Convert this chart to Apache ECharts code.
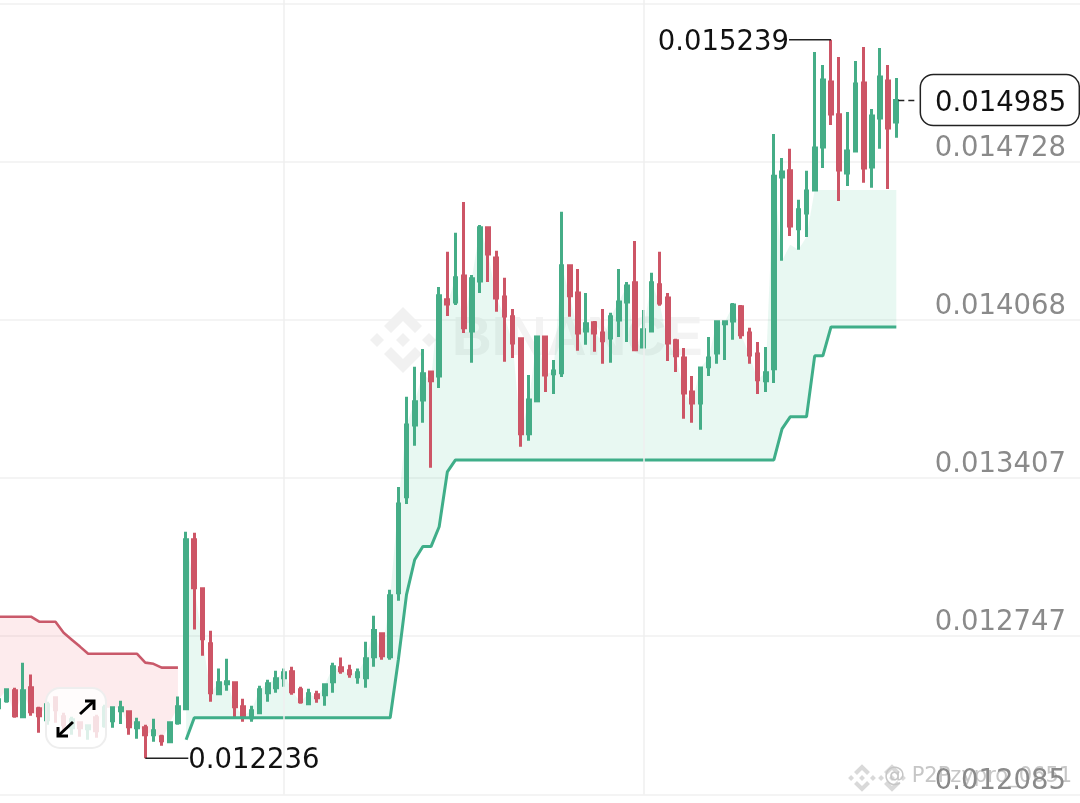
<!DOCTYPE html>
<html><head><meta charset="utf-8">
<style>html,body{margin:0;padding:0;background:#fff}#c{width:1080px;height:803px}</style>
<script src="https://cdn.jsdelivr.net/npm/echarts@6/dist/echarts.min.js"></script>
</head><body><div id="c"></div>
<script>
const opens=[0.012448,0.012477,0.012519,0.012410,0.012531,0.012443,0.012397,0.012489,0.012410,0.012364,0.012385,0.012360,0.012406,0.012372,0.012393,0.012435,0.012431,0.012364,0.012364,0.012335,0.012326,0.012305,0.012385,0.012443,0.013150,0.012945,0.012715,0.012506,0.012548,0.012552,0.012452,0.012406,0.012427,0.012510,0.012531,0.012573,0.012598,0.012523,0.012464,0.012502,0.012502,0.012556,0.012615,0.012602,0.012577,0.012573,0.012661,0.012757,0.012661,0.012928,0.013329,0.013629,0.013734,0.013851,0.013834,0.014152,0.014143,0.014252,0.014022,0.014231,0.014453,0.014327,0.014164,0.014081,0.013989,0.013592,0.013730,0.013997,0.013843,0.013847,0.014294,0.014181,0.014022,0.014056,0.014014,0.013993,0.014068,0.014143,0.014223,0.013955,0.014022,0.014215,0.014160,0.013981,0.013909,0.013767,0.013721,0.013872,0.013930,0.014052,0.014064,0.014123,0.014014,0.013926,0.013814,0.013864,0.014665,0.014691,0.014449,0.014515,0.014611,0.014791,0.015062,0.014925,0.014682,0.014774,0.015058,0.014707,0.014912,0.015067,0.014895];
const closes=[0.012481,0.012523,0.012414,0.012519,0.012431,0.012414,0.012460,0.012439,0.012376,0.012397,0.012364,0.012372,0.012351,0.012448,0.012448,0.012448,0.012368,0.012385,0.012335,0.012351,0.012310,0.012385,0.012452,0.013150,0.012949,0.012736,0.012510,0.012552,0.012556,0.012452,0.012414,0.012435,0.012523,0.012548,0.012569,0.012594,0.012514,0.012473,0.012506,0.012489,0.012544,0.012619,0.012602,0.012590,0.012594,0.012652,0.012770,0.012665,0.012916,0.013299,0.013629,0.013726,0.013843,0.013814,0.014169,0.014135,0.014244,0.014035,0.014240,0.014453,0.014344,0.014160,0.014085,0.013972,0.013592,0.013734,0.013997,0.013838,0.013855,0.014294,0.014169,0.014014,0.014052,0.014014,0.013981,0.014081,0.014143,0.014210,0.013943,0.014027,0.014223,0.014139,0.013972,0.013918,0.013763,0.013721,0.013867,0.013909,0.014060,0.014060,0.014131,0.014006,0.013922,0.013818,0.013847,0.014669,0.014686,0.014461,0.014528,0.014607,0.014787,0.015071,0.014929,0.014695,0.014774,0.015054,0.014703,0.014920,0.015083,0.014870,0.014985];
const lows=[0.012439,0.012468,0.012406,0.012406,0.012414,0.012343,0.012376,0.012385,0.012347,0.012335,0.012326,0.012314,0.012322,0.012364,0.012364,0.012380,0.012335,0.012318,0.012236,0.012305,0.012289,0.012305,0.012376,0.012439,0.012774,0.012665,0.012473,0.012502,0.012519,0.012406,0.012389,0.012389,0.012427,0.012473,0.012510,0.012535,0.012502,0.012464,0.012464,0.012468,0.012456,0.012510,0.012590,0.012573,0.012548,0.012531,0.012619,0.012648,0.012648,0.012895,0.013299,0.013542,0.013638,0.013450,0.013784,0.014085,0.014131,0.014014,0.013889,0.014181,0.014227,0.014102,0.013893,0.013909,0.013538,0.013563,0.013730,0.013767,0.013759,0.013830,0.014081,0.013939,0.013964,0.013935,0.013885,0.013889,0.013997,0.013976,0.013939,0.013955,0.014022,0.014127,0.013897,0.013851,0.013655,0.013638,0.013609,0.013834,0.013885,0.013901,0.013985,0.013989,0.013885,0.013759,0.013767,0.013805,0.014315,0.014419,0.014361,0.014415,0.014611,0.014703,0.014883,0.014565,0.014628,0.014774,0.014641,0.014620,0.014783,0.014615,0.014829];
const highs=[0.012489,0.012527,0.012531,0.012636,0.012586,0.012452,0.012473,0.012494,0.012427,0.012410,0.012389,0.012376,0.012418,0.012460,0.012452,0.012477,0.012431,0.012406,0.012376,0.012402,0.012335,0.012389,0.012494,0.013183,0.013179,0.012945,0.012769,0.012611,0.012652,0.012556,0.012485,0.012456,0.012539,0.012565,0.012602,0.012611,0.012619,0.012535,0.012527,0.012519,0.012548,0.012636,0.012657,0.012627,0.012611,0.012723,0.012832,0.012757,0.012941,0.013370,0.013747,0.013872,0.013947,0.013855,0.014206,0.014353,0.014432,0.014561,0.014256,0.014465,0.014457,0.014357,0.014244,0.014114,0.013989,0.013838,0.013997,0.013997,0.013901,0.014520,0.014294,0.014281,0.014181,0.014064,0.014114,0.014098,0.014281,0.014227,0.014398,0.014110,0.014265,0.014353,0.014181,0.013989,0.013951,0.013834,0.013867,0.013997,0.014064,0.014064,0.014139,0.014131,0.014035,0.013976,0.013955,0.014845,0.014745,0.014783,0.014570,0.014691,0.015188,0.015133,0.015239,0.015167,0.014937,0.015150,0.015209,0.014950,0.015204,0.015133,0.015079];
// Trend lines: red over candles 0-22, green from candle 23 to the end
const redTrend=[0.012828,0.012828,0.012828,0.012828,0.012828,0.012807,0.012807,0.012807,0.012761,0.012732,0.012703,0.012673,0.012673,0.012673,0.012673,0.012673,0.012673,0.012673,0.012636,0.012631,0.012615,0.012615,0.012615];
const greenTrend=[0.012314,0.012406,0.012406,0.012406,0.012406,0.012406,0.012406,0.012406,0.012406,0.012406,0.012406,0.012406,0.012406,0.012406,0.012406,0.012406,0.012406,0.012406,0.012406,0.012406,0.012406,0.012406,0.012406,0.012406,0.012406,0.012406,0.012648,0.012920,0.013066,0.013121,0.013121,0.013204,0.013433,0.013483,0.013483,0.013483,0.013483,0.013483,0.013483,0.013483,0.013483,0.013483,0.013483,0.013483,0.013483,0.013483,0.013483,0.013483,0.013483,0.013483,0.013483,0.013483,0.013483,0.013483,0.013483,0.013483,0.013483,0.013483,0.013483,0.013483,0.013483,0.013483,0.013483,0.013483,0.013483,0.013483,0.013483,0.013483,0.013483,0.013483,0.013483,0.013483,0.013483,0.013613,0.013663,0.013663,0.013663,0.013918,0.013918,0.014039,0.014039,0.014039,0.014039,0.014039,0.014039,0.014039,0.014039,0.014039];
// Top edge of the green band for candles 96-110 (closes elsewhere)
const greenBandTopEnd=[0.014315,0.014382,0.014361,0.014415,0.014611,0.014611,0.014611,0.014611,0.014611,0.014611,0.014611,0.014611,0.014611,0.014611,0.014611];
const yTicks=[0.015388,0.014728,0.014068,0.013407,0.012747,0.012085];
const highLabel='0.015239', lowLabel='0.012236', lastLabel='0.014985';
const highIndex=102, lowIndex=18, lastIndex=110;
const vGridIndex=[35,79];
const BANDS=133, RED_N=redTrend.length, GREEN_START=RED_N;

const categories=Array.from({length:BANDS},(_,i)=>String(i));
const candle=opens.map((o,i)=>[o,closes[i],lows[i],highs[i]]);
const fit=a=>a.map(v=>v==null?null:+v.toFixed(6));
const redBase=categories.map((_,i)=>i<RED_N?closes[i]:null);
const redDiff=fit(categories.map((_,i)=>i<RED_N?redTrend[i]-closes[i]:null));
const greenBase=categories.map((_,i)=>i>=GREEN_START&&i<opens.length?greenTrend[i-GREEN_START]:null);
const greenTop=categories.map((_,i)=>i<GREEN_START||i>=opens.length?null:(i>=96?greenBandTopEnd[i-96]:closes[i]));
const greenDiff=categories.map((_,i)=>greenTop[i]==null?null:+(greenTop[i]-greenBase[i]).toFixed(6));
const redLine=categories.map((_,i)=>i<RED_N?redTrend[i]:null);
const greenLine=categories.map((_,i)=>greenBase[i]);

const FONT='"DejaVu Sans"', FS=27.5, TEXT_DY=3;
const UP='#45ad87', DOWN='#cd5566';
const logo=(x,y,s,fill)=>{const P=pts=>({type:'polygon',shape:{points:pts.map(p=>[p[0]*s,p[1]*s])},style:{fill}});
 return {type:'group',x,y,children:[P([[0,-33],[19,-14],[12,-7],[0,-19],[-12,-7],[-19,-14]]),P([[0,33],[19,14],[12,7],[0,19],[-12,7],[-19,14]]),P([[-33,0],[-26,-7],[-19,0],[-26,7]]),P([[33,0],[26,-7],[19,0],[26,7]]),P([[0,-7],[7,0],[0,7],[-7,0]])]};};

const annotations=[[highIndex,0.015239,highLabel,'high'],[lowIndex,0.012236,lowLabel,'low'],[lastIndex,0.014985,lastLabel,'last']];
function renderNote(params,api){
 const p=api.coord([api.value(0),api.value(1)]);
 const kind=annotations[params.dataIndex][3], txt=annotations[params.dataIndex][2];
 const font=`${FS}px ${FONT}`;
 if(kind==='high') return {type:'group',children:[
  {type:'line',shape:{x1:p[0]-42,y1:p[1],x2:p[0],y2:p[1]},style:{stroke:'#222',lineWidth:1.5}},
  {type:'text',x:p[0]-42,y:p[1]+TEXT_DY,style:{text:txt,font,fill:'#111',textAlign:'right',textVerticalAlign:'middle'}}]};
 if(kind==='low') return {type:'group',children:[
  {type:'line',shape:{x1:p[0],y1:p[1],x2:p[0]+43,y2:p[1]},style:{stroke:'#222',lineWidth:1.5}},
  {type:'text',x:p[0]+43,y:p[1]+TEXT_DY-1,style:{text:txt,font,fill:'#111',textAlign:'left',textVerticalAlign:'middle'}}]};
 return {type:'group',children:[
  {type:'line',shape:{x1:p[0]+2,y1:p[1],x2:p[0]+22,y2:p[1]},style:{stroke:'#222',lineWidth:1.5,lineDash:[6,4]}},
  {type:'rect',shape:{x:p[0]+24,y:p[1]-26,width:159,height:51,r:13},style:{fill:'#fff',stroke:'#222',lineWidth:1.5}},
  {type:'text',x:p[0]+170,y:p[1]+TEXT_DY,style:{text:txt,font,fill:'#111',textAlign:'right',textVerticalAlign:'middle'}}]};
}

const chart=echarts.init(document.getElementById('c'),null,{renderer:'canvas'});
chart.setOption({
 animation:false,backgroundColor:'#fff',
 grid:{left:-5.74,right:0,top:0,height:794.5,outerBoundsMode:'none',containLabel:false},
 xAxis:{type:'category',data:categories,boundaryGap:true,axisLine:{show:false},axisTick:{show:false},axisLabel:{show:false},splitLine:{show:false}},
 yAxis:{type:'value',position:'right',min:0.012085,max:0.015405,scale:true,
  axisLine:{show:false},
  axisTick:{show:false,customValues:yTicks},
  axisLabel:{show:true,inside:true,margin:14,customValues:yTicks.slice(1),formatter:v=>v.toFixed(6),color:'#8a8a8a',fontFamily:FONT,fontSize:FS,verticalAlign:'bottom',lineHeight:26},
  splitLine:{show:true,lineStyle:{color:'#f0f0f0',width:1.5}}},
 graphic:{elements:[
  Object.assign(logo(403,340,1,'#f1f1f1'),{z:0}),
  {type:'text',x:452,y:340,z:0,style:{text:'BINANCE',font:'bold 55px "Liberation Sans"',fill:'#f3f3f3',textVerticalAlign:'middle'}},
  Object.assign(logo(862,778,0.42,'#d9d9d9'),{z:0}),
  Object.assign(logo(892,778,0.42,'#d9d9d9'),{z:0}),
  {type:'text',x:884,y:777,z:0,style:{text:'@ P2Pzypro_0651',font:'21px "DejaVu Sans"',fill:'#c6c6c6',textVerticalAlign:'middle'}},
  {type:'rect',z:50,shape:{x:46,y:688,width:60,height:60,r:14},style:{fill:'rgba(255,255,255,0.82)',stroke:'#eeeeee',lineWidth:2}},
  {type:'polyline',z:60,shape:{points:[[58,736],[73,722]]},style:{stroke:'#000',lineWidth:3,fill:null}},
  {type:'polyline',z:60,shape:{points:[[58,727],[58,736],[68,736]]},style:{stroke:'#000',lineWidth:3,fill:null}},
  {type:'polyline',z:60,shape:{points:[[80,714],[94,701]]},style:{stroke:'#000',lineWidth:3,fill:null}},
  {type:'polyline',z:60,shape:{points:[[85,701],[94,701],[94,710]]},style:{stroke:'#000',lineWidth:3,fill:null}}
 ]},
 series:[
  {type:'line',name:'redBase',data:redBase,stack:'r',symbol:'none',lineStyle:{opacity:0},z:1,silent:true},
  {type:'line',name:'redBand',data:redDiff,stack:'r',symbol:'none',lineStyle:{opacity:0},areaStyle:{color:'rgba(240,70,90,0.11)',opacity:1},z:1,silent:true},
  {type:'line',name:'greenBase',data:greenBase,stack:'g',symbol:'none',lineStyle:{opacity:0},z:1,silent:true,
   markLine:{silent:true,symbol:'none',label:{show:false},lineStyle:{color:'#efefef',width:1.5,type:'solid'},data:vGridIndex.map(i=>({xAxis:i}))}},
  {type:'line',name:'greenBand',data:greenDiff,stack:'g',symbol:'none',lineStyle:{opacity:0},areaStyle:{color:'rgba(46,190,135,0.11)',opacity:1},z:1,silent:true},
  {type:'candlestick',name:'price',data:candle,barWidth:3.2,z:2,itemStyle:{color:UP,color0:DOWN,borderColor:UP,borderColor0:DOWN,borderColorDoji:UP,borderWidth:3}},
  {type:'line',name:'redTrend',data:redLine,symbol:'none',lineStyle:{color:'#c9596a',width:2.6},z:3},
  {type:'line',name:'greenTrend',data:greenLine,symbol:'none',lineStyle:{color:'#3fae89',width:3},z:3},
  {type:'custom',name:'notes',data:annotations.map(a=>[a[0],a[1]]),renderItem:renderNote,z:4,clip:false,encode:{x:0,y:1}}
 ]
});
</script></body></html>
